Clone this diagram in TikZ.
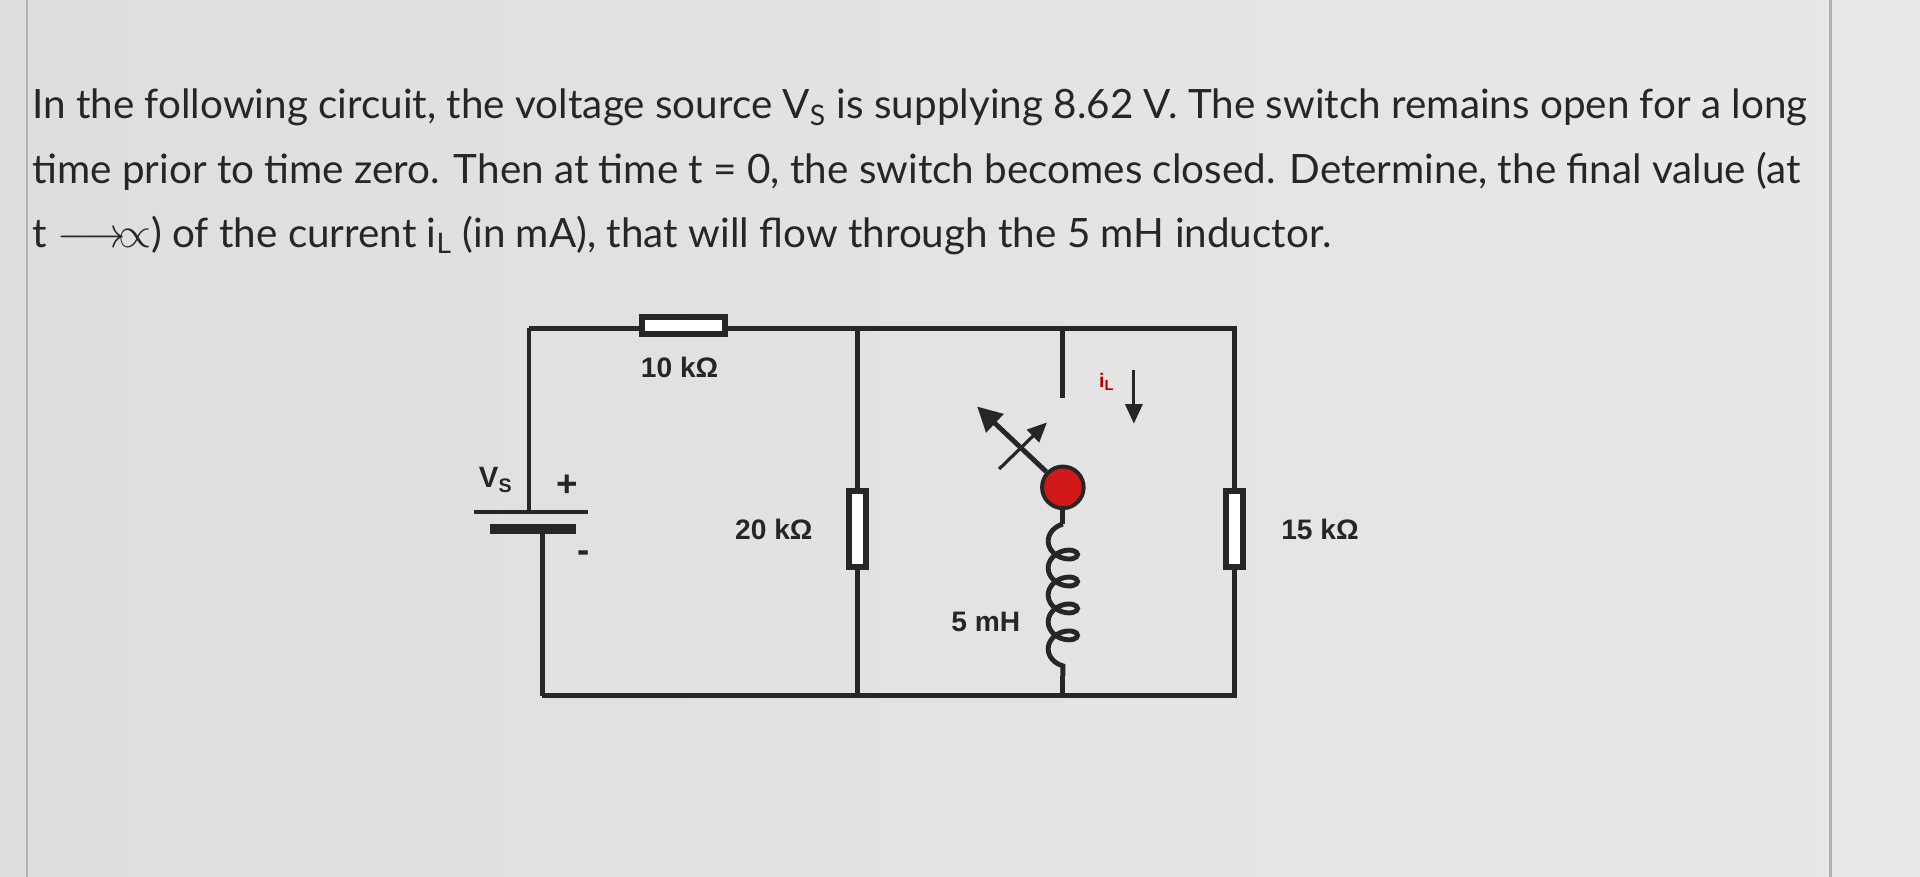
\documentclass[tikz,border=0pt]{standalone}
\usepackage{fontspec}
\setmainfont{Lato}
\newfontfamily\lab{Liberation Sans}
\usetikzlibrary{arrows.meta,decorations.pathmorphing}
\begin{document}
\begin{tikzpicture}[x=0.5pt,y=-0.5pt,
  wire/.style={line width=2pt,draw=black!85},
  res/.style={draw=black!85,line width=2.4pt,fill=white,minimum width=#1,inner sep=0},
  lbl/.style={font=\lab\bfseries\fontsize{11.5}{13}\selectfont,inner sep=0,text=black!85},
  txt/.style={anchor=west,inner sep=0,font=\fontsize{16.5}{19}\selectfont,text=black!85}]
\useasboundingbox (0,0) rectangle (1568,716);
\fill[left color=black!13,right color=black!9] (0,0) rectangle (1568,716);
\draw[black!30,line width=1pt] (22,0) -- (22,716);
\draw[black!30,line width=1pt] (1495,0) -- (1495,716);
\node[txt] (l1) at (26,88) {In the following circuit, the voltage source V$_\mathrm{S}$ is supplying 8.62 V. The switch remains open for a long};
\node[txt] (l2) at (26,140) {time prior to time zero. Then at time t = 0, the switch becomes closed. Determine, the final value (at};
\node[txt] (l3) at (26,192) {t $\longrightarrow\!\propto$) of the current i$_\mathrm{L}$ (in mA), that will flow through the 5 mH inductor.};
% corners
\coordinate (tl) at (432,268); \coordinate (tm) at (700,268); \coordinate (tr) at (1008,268);
\coordinate (bl) at (443,568); \coordinate (bm) at (700,568); \coordinate (br) at (1008,568);
\coordinate (sw) at (868,268); \coordinate (swe) at (868,325);
\coordinate (ib) at (868,568);
\draw[wire] (tl) -- (tr) -- (br) -- (bl);
\draw[wire] (tm) -- (bm);
\draw[wire] (tl) -- (432,418);
\draw[wire] (443,432) -- (bl);
\draw[wire] (sw) -- (swe);
% battery
\draw[line width=1.6pt,black!85] (387,418) -- (480,418);
\draw[line width=3.8pt,black!85] (400,432) -- (470,432);
\node[lbl,font=\lab\bfseries\fontsize{12}{12}\selectfont] (vs) at (405,392) {V\textsubscript{S}};
\node[lbl,font=\lab\bfseries\fontsize{15}{12}\selectfont] (plus) at (463,397) {+};
\node[lbl,font=\lab\bfseries\fontsize{15}{12}\selectfont] (minus) at (477,455) {-};
% resistors
\node[res=34pt,minimum height=7pt] (r10) at (558,266) {};
\node[lbl] (l10) at (555,300) {10 kΩ};
\node[res=7pt,minimum height=31pt] (r20) at (700,432) {};
\node[lbl] (l20) at (632,432) {20 kΩ};
\node[res=7pt,minimum height=31pt] (r15) at (1008,432) {};
\node[lbl] (l15) at (1078,432) {15 kΩ};
% switch / inductor
\node[circle,fill=red!80!black!90,draw=black!85,line width=1.6pt,minimum size=17pt,inner sep=0] (dot) at (868,398) {};
\draw[wire] (dot.south) -- (868,428);
\draw[wire,decorate,decoration={coil,aspect=0.7,segment length=11pt,amplitude=6pt,mirror}] (868,428) -- (868,552);
\draw[wire] (868,552) -- (ib);
\node[lbl] (l5) at (805,508) {5 mH};
\draw[wire,-{Triangle[length=10pt,width=10pt]}] (dot) -- (798,332);
\draw[line width=1.3pt,black!85,-{Triangle[length=8pt,width=7pt]}] (816,383) -- (855,345);
% current
\node[lbl,text=red!70!black,font=\lab\bfseries\fontsize{8}{8}\selectfont] (il) at (904,312) {i\textsubscript{L}};
\draw[line width=1.3pt,black!85,-{Triangle[length=8pt,width=7pt]}] (926,302) -- (926,346);
\end{tikzpicture}
\end{document}
